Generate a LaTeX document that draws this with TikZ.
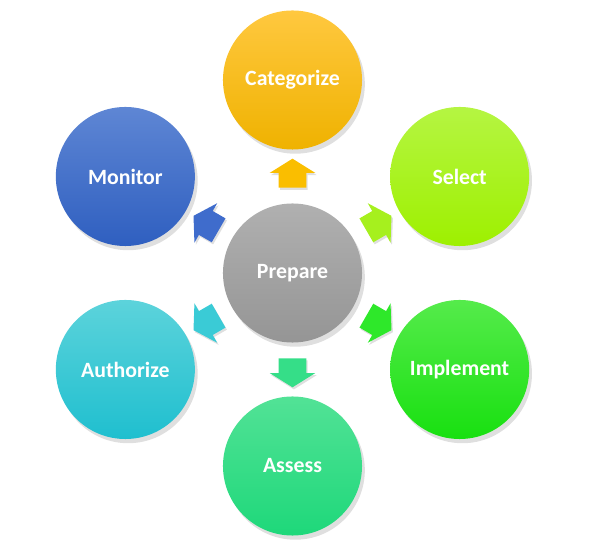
\documentclass[tikz,border=0pt]{standalone}
\usepackage{fontspec}
\setmainfont{Carlito}
\usetikzlibrary{shapes.arrows, shadows}

% stage colours: A = top, B = bottom, C = pointer
\definecolor{prepA}{HTML}{B0B0B0}
\definecolor{prepB}{HTML}{959595}
\definecolor{catA}{HTML}{FFC83F}
\definecolor{catB}{HTML}{EFB200}
\definecolor{catC}{HTML}{FABE00}
\definecolor{selA}{HTML}{B5F542}
\definecolor{selB}{HTML}{9EF000}
\definecolor{selC}{HTML}{A6F01E}
\definecolor{implA}{HTML}{55EB4B}
\definecolor{implB}{HTML}{18E010}
\definecolor{implC}{HTML}{2EE82A}
\definecolor{assA}{HTML}{52E296}
\definecolor{assB}{HTML}{1ED87A}
\definecolor{assC}{HTML}{35DE88}
\definecolor{authA}{HTML}{5CD3DB}
\definecolor{authB}{HTML}{1FBFCF}
\definecolor{authC}{HTML}{3ACBD6}
\definecolor{monA}{HTML}{5E86D4}
\definecolor{monB}{HTML}{2F5FC0}
\definecolor{monC}{HTML}{3F6CCC}

\begin{document}
\begin{tikzpicture}[
  x=0.025cm, y=0.025cm,
  every node/.style={font=\fontsize{15.5}{18}\selectfont\bfseries, text=white},
  stage/.style={circle, minimum size=3.475cm, inner sep=0pt,
    drop shadow={shadow xshift=2pt, shadow yshift=-3pt, opacity=0.25}},
  pointer/.style={single arrow, minimum height=0.725cm, minimum width=1.125cm,
    single arrow head extend=0.225cm, single arrow tip angle=116,
    inner xsep=0pt, inner ysep=0.3375cm,
    drop shadow={shadow xshift=1pt, shadow yshift=-1.5pt, opacity=0.25}}
]
\useasboundingbox (-292.5,-284) rectangle (307.5,273);

% Centre
\node[stage, top color=prepA, bottom color=prepB] (prep) at (0,0) {Prepare};

% Ring of stages with pointers
\foreach \ang/\name/\txt in {90/cat/Categorize, 30/sel/Select, -30/impl/Implement,
    -90/ass/Assess, -150/auth/Authorize, 150/mon/Monitor} {
  \node[stage, top color=\name A, bottom color=\name B] (\name) at (\ang:193) {\txt};
  \node[pointer, rotate=\ang, fill=\name C] (\name-ptr) at (\ang:95.5) {};
}

\end{tikzpicture}
\end{document}
